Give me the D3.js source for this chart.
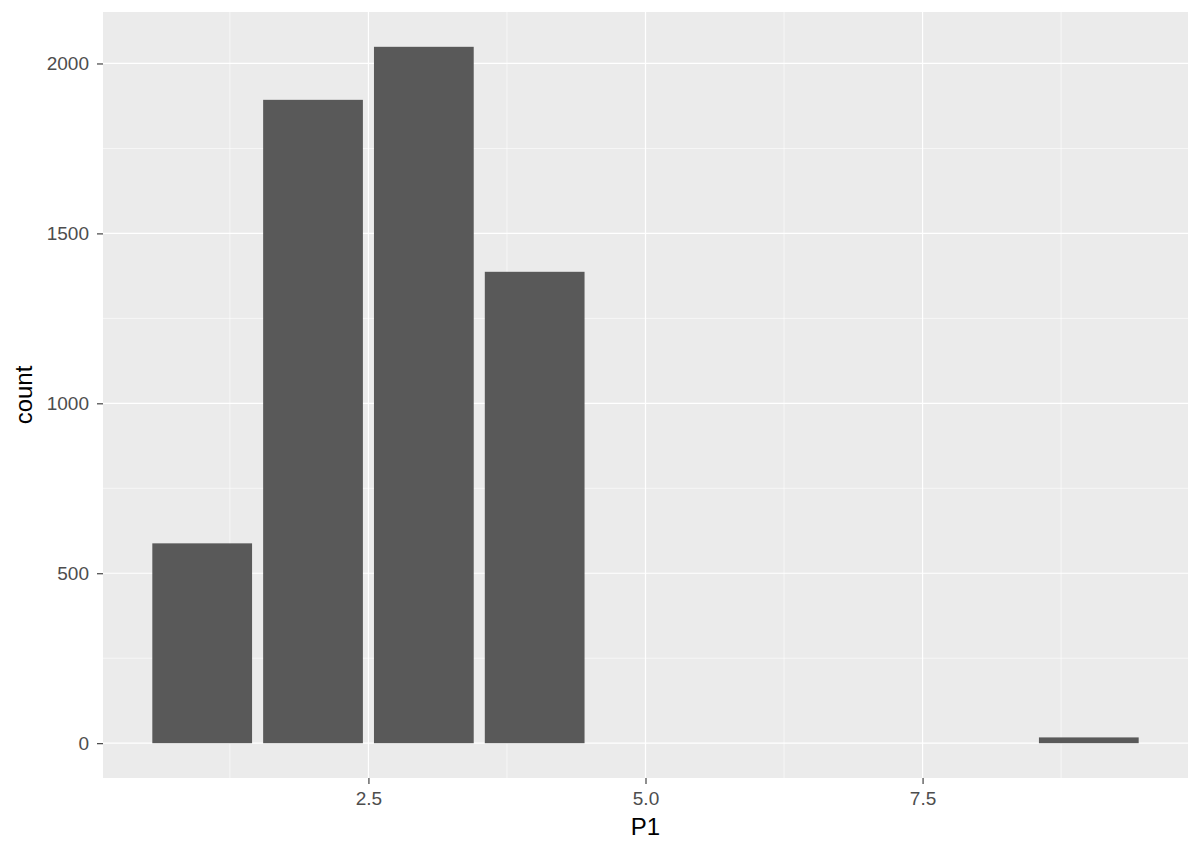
<!DOCTYPE html>
<html>
<head>
<meta charset="utf-8">
<script src="https://cdn.jsdelivr.net/npm/d3@7"></script>
<style>
  body { margin: 0; background: #fff; }
  svg { font-family: "Liberation Sans", Arial, sans-serif; }
</style>
</head>
<body>
<svg></svg>
<script>
// Data
const p1Values = [1, 2, 3, 4, 9];
const counts = [588, 1893, 2049, 1387, 17];
const xTicks = [2.5, 5.0, 7.5];
const yTicks = [0, 500, 1000, 1500, 2000];

const width = 1200, height = 857;
const margin = { top: 12, right: 12, bottom: 79, left: 103 };

const svg = d3.select("svg").attr("width", width).attr("height", height);

const barWidth = 0.9;
const xMin = d3.min(p1Values) - barWidth / 2, xMax = d3.max(p1Values) + barWidth / 2;
const xPad = (xMax - xMin) * 0.05;
const yMax = d3.max(counts);

const x = d3.scaleLinear()
  .domain([xMin - xPad, xMax + xPad])
  .range([margin.left, width - margin.right]);

const y = d3.scaleLinear()
  .domain([-yMax * 0.05, yMax * 1.05])
  .range([height - margin.bottom, margin.top]);

// Panel background
svg.append("rect")
  .attr("x", margin.left)
  .attr("y", margin.top)
  .attr("width", width - margin.left - margin.right)
  .attr("height", height - margin.top - margin.bottom)
  .attr("fill", "#ebebeb");

// Minor grid lines sit halfway between the major ones
const xMinor = [1.25, 3.75, 6.25, 8.75];
const yMinor = [250, 750, 1250, 1750];

const grid = svg.append("g");
grid.selectAll("line.xminor").data(xMinor).enter().append("line")
  .attr("x1", d => x(d)).attr("x2", d => x(d))
  .attr("y1", margin.top).attr("y2", height - margin.bottom)
  .attr("stroke", "#fff").attr("stroke-width", 0.6);
grid.selectAll("line.yminor").data(yMinor).enter().append("line")
  .attr("y1", d => y(d)).attr("y2", d => y(d))
  .attr("x1", margin.left).attr("x2", width - margin.right)
  .attr("stroke", "#fff").attr("stroke-width", 0.6);
grid.selectAll("line.xmajor").data(xTicks).enter().append("line")
  .attr("x1", d => x(d)).attr("x2", d => x(d))
  .attr("y1", margin.top).attr("y2", height - margin.bottom)
  .attr("stroke", "#fff").attr("stroke-width", 1.2);
grid.selectAll("line.ymajor").data(yTicks).enter().append("line")
  .attr("y1", d => y(d)).attr("y2", d => y(d))
  .attr("x1", margin.left).attr("x2", width - margin.right)
  .attr("stroke", "#fff").attr("stroke-width", 1.2);

// Bars
svg.selectAll("rect.bar")
  .data(p1Values)
  .enter()
  .append("rect")
  .attr("class", "bar")
  .attr("x", d => x(d - barWidth / 2))
  .attr("width", d => x(d + barWidth / 2) - x(d - barWidth / 2))
  .attr("y", (_d, i) => y(counts[i]))
  .attr("height", (_d, i) => y(0) - y(counts[i]))
  .attr("fill", "#595959");

// Axes
const xAxis = svg.append("g")
  .attr("transform", `translate(0, ${height - margin.bottom})`)
  .call(d3.axisBottom(x).tickValues(xTicks).tickFormat(d3.format(".1f")).tickSize(6).tickPadding(8));

const yAxis = svg.append("g")
  .attr("transform", `translate(${margin.left}, 0)`)
  .call(d3.axisLeft(y).tickValues(yTicks).tickFormat(d3.format("d")).tickSize(6).tickPadding(8));

[xAxis, yAxis].forEach(a => {
  a.select(".domain").remove();
  a.selectAll(".tick line").attr("stroke", "#333").attr("stroke-width", 1.1);
  a.selectAll(".tick text")
    .attr("fill", "#4d4d4d")
    .style("font-size", "19px")
    .style("font-family", "'Liberation Sans', Arial, sans-serif");
});

// Axis titles
svg.append("text")
  .attr("x", (margin.left + width - margin.right) / 2)
  .attr("y", 835)
  .attr("text-anchor", "middle")
  .style("font-size", "24px")
  .attr("fill", "#000")
  .text("P1");

svg.append("text")
  .attr("transform", `translate(32, ${(margin.top + height - margin.bottom) / 2}) rotate(-90)`)
  .attr("text-anchor", "middle")
  .style("font-size", "24px")
  .attr("fill", "#000")
  .text("count");
</script>
</body>
</html>
